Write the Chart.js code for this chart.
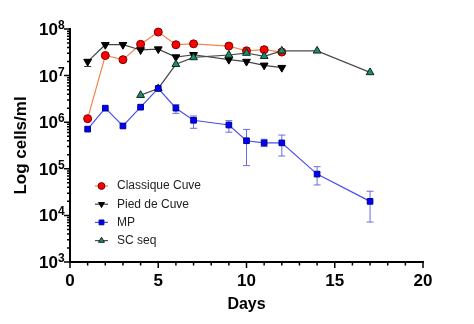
<!DOCTYPE html>
<html>
<head>
<meta charset="utf-8">
<script src="https://cdn.jsdelivr.net/npm/chart.js@4/dist/chart.umd.min.js"></script>
<style>
html,body{margin:0;padding:0;background:#fff;}
#wrap{width:474px;height:324px;position:relative;}
</style>
</head>
<body>
<div id="wrap"><canvas id="chart"></canvas></div>
<script>
// cell counts per day, log scale
var classiqueDays=[1,2,3,4,5,6,7,9,10,11,12];
var classique=[1.19e6,2.7e7,2.2e7,4.7e7,8.6e7,4.6e7,4.8e7,4.3e7,3.4e7,3.6e7,3.2e7];

var piedDays=[1,2,3,4,5,6,7,9,10,11,12];
var pied=[2.0e7,4.6e7,4.6e7,3.55e7,3.7e7,2.5e7,2.8e7,2.2e7,2.0e7,1.66e7,1.48e7];
var piedLow=[1.57e7,null,null,null,null,null,null,null,null,null,null];
var piedHigh=[2.2e7,null,null,null,null,null,null,null,null,null,null];

var mpDays=[1,2,3,4,5,6,7,9,10,11,12,14,17];
var mp=[7.1e5,2.0e6,8.3e5,2.1e6,5.3e6,2.0e6,1.1e6,8.7e5,4.0e5,3.6e5,3.6e5,7.7e4,2.0e4];
var mpLow=[null,null,null,null,null,1.55e6,7.4e5,6.1e5,1.17e5,3.0e5,1.88e5,4.5e4,7.2e3];
var mpHigh=[null,null,null,null,null,2.4e6,1.36e6,1.08e6,7.0e5,4.3e5,5.3e5,1.11e5,3.3e4];

var scDays=[4,5,6,7,9,10,11,12,14,17];
var sc=[3.8e6,5.3e6,1.75e7,2.45e7,2.77e7,3.05e7,2.6e7,3.4e7,3.4e7,1.17e7];

var xTicks=[0,5,10,15,20];
var yPowers=[3,4,5,6,7,8];

var FONT="Arial, 'Liberation Sans', sans-serif";

function pts(days,vals){
    return days.map(function(d,i){return {x:d,y:vals[i]};});
}

var series=[
    {label:'Classique Cuve',data:pts(classiqueDays,classique),borderColor:'#f2874f',
        pointBackgroundColor:'#ff0000',pointBorderColor:'#7a0000',pointStyle:'circle',pointRadius:4,pointRotation:0,order:3},
    {label:'Pied de Cuve',data:pts(piedDays,pied),borderColor:'#454545',
        pointBackgroundColor:'#000000',pointBorderColor:'#000000',pointStyle:'triangle',pointRadius:4.5,pointRotation:180,order:2,
        errLow:piedLow,errHigh:piedHigh,errColor:'#333333'},
    {label:'MP',data:pts(mpDays,mp),borderColor:'#4b4bf0',
        pointBackgroundColor:'#0000ff',pointBorderColor:'#00008a',pointStyle:'rect',pointRadius:4,pointRotation:0,order:0,
        errLow:mpLow,errHigh:mpHigh,errColor:'#6a6ae6'},
    {label:'SC seq',data:pts(scDays,sc),borderColor:'#4a4a4a',
        pointBackgroundColor:'#1f8c68',pointBorderColor:'#0a2a20',pointStyle:'triangle',pointRadius:4.5,pointRotation:0,order:1}
];

series.forEach(function(s){
    s.borderWidth=1.2;
    s.pointBorderWidth=1;
    s.tension=0;
    s.fill=false;
    s.clip=false;
});

// vertical error bars with caps
var errorBars={
    id:'errorBars',
    beforeDatasetsDraw:function(chart){
        var ctx=chart.ctx,xs=chart.scales.x,ys=chart.scales.y;
        ctx.save();
        ctx.lineWidth=1;
        chart.data.datasets.forEach(function(ds){
            if(!ds.errLow) return;
            ctx.strokeStyle=ds.errColor;
            ds.data.forEach(function(p,i){
                if(ds.errLow[i]==null) return;
                var x=xs.getPixelForValue(p.x);
                var y1=ys.getPixelForValue(ds.errHigh[i]);
                var y2=ys.getPixelForValue(ds.errLow[i]);
                ctx.beginPath();
                ctx.moveTo(x,y1);ctx.lineTo(x,y2);
                ctx.moveTo(x-3.5,y1);ctx.lineTo(x+3.5,y1);
                ctx.moveTo(x-3.5,y2);ctx.lineTo(x+3.5,y2);
                ctx.stroke();
            });
        });
        ctx.restore();
    }
};

// tick marks, tick labels, titles and the legend box
var axisDecor={
    id:'axisDecor',
    afterDraw:function(chart){
        var ctx=chart.ctx,xs=chart.scales.x,ys=chart.scales.y,area=chart.chartArea;
        ctx.save();
        ctx.strokeStyle='#000';
        ctx.fillStyle='#000';
        ctx.lineWidth=1.5;

        // y ticks (major + log minor)
        ctx.beginPath();
        yPowers.forEach(function(p){
            var y=ys.getPixelForValue(Math.pow(10,p));
            ctx.moveTo(area.left-6,y);ctx.lineTo(area.left,y);
            if(p<8){
                for(var m=2;m<10;m++){
                    var ym=ys.getPixelForValue(m*Math.pow(10,p));
                    ctx.moveTo(area.left-3,ym);ctx.lineTo(area.left,ym);
                }
            }
        });
        // x ticks (every day, longer every 5)
        for(var d=0;d<=20;d++){
            var x=xs.getPixelForValue(d);
            ctx.moveTo(x,area.bottom);ctx.lineTo(x,area.bottom+(d%5===0?6:3.5));
        }
        ctx.stroke();

        // y tick labels 10^n
        yPowers.forEach(function(p){
            var y=ys.getPixelForValue(Math.pow(10,p));
            ctx.font='bold 17px '+FONT;
            ctx.textAlign='right';
            ctx.textBaseline='alphabetic';
            ctx.fillText('10',area.left-12,y+6);
            ctx.font='bold 12px '+FONT;
            ctx.textAlign='left';
            ctx.fillText(String(p),area.left-12,y);
        });

        // x tick labels
        ctx.font='bold 17px '+FONT;
        ctx.textAlign='center';
        ctx.textBaseline='alphabetic';
        xTicks.forEach(function(v){
            ctx.fillText(String(v),xs.getPixelForValue(v),area.bottom+24);
        });

        // axis titles
        ctx.font='bold 16px '+FONT;
        ctx.fillText('Days',(area.left+area.right)/2,309);
        ctx.save();
        ctx.translate(26,(area.top+area.bottom)/2);
        ctx.rotate(-Math.PI/2);
        ctx.font='bold 17px '+FONT;
        ctx.fillText('Log cells/ml',0,0);
        ctx.restore();

        // legend
        chart.data.datasets.forEach(function(ds,i){
            var ly=186+i*18.2;
            ctx.strokeStyle=ds.borderColor;
            ctx.lineWidth=1.2;
            ctx.beginPath();ctx.moveTo(95,ly);ctx.lineTo(108,ly);ctx.stroke();
            ctx.fillStyle=ds.pointBackgroundColor;
            ctx.strokeStyle=ds.pointBorderColor;
            ctx.lineWidth=1;
            Chart.helpers.drawPoint(ctx,{pointStyle:ds.pointStyle,radius:3.4,rotation:ds.pointRotation,borderWidth:1},101.5,ly);
            ctx.fillStyle='#222';
            ctx.font='12px '+FONT;
            ctx.textAlign='left';
            ctx.textBaseline='middle';
            ctx.fillText(ds.label,117,ly);
        });
        ctx.restore();
    }
};

var chartConfig={
    type:'line',
    data:{datasets:series},
    options:{
        responsive:true,
        maintainAspectRatio:false,
        animation:false,
        layout:{padding:{left:70,top:29,right:51,bottom:62}},
        plugins:{legend:{display:false},tooltip:{enabled:false}},
        scales:{
            x:{
                type:'linear',min:0,max:20,
                grid:{display:false,drawTicks:false},
                ticks:{display:false},
                border:{display:true,color:'#000',width:2},
                afterFit:function(s){s.height=0;}
            },
            y:{
                type:'logarithmic',min:1e3,max:1e8,
                grid:{display:false,drawTicks:false},
                ticks:{display:false},
                border:{display:true,color:'#000',width:2},
                afterFit:function(s){s.width=0;}
            }
        }
    },
    plugins:[errorBars,axisDecor]
};
var chart=new Chart(document.getElementById('chart'),chartConfig);
</script>
</body>
</html>
